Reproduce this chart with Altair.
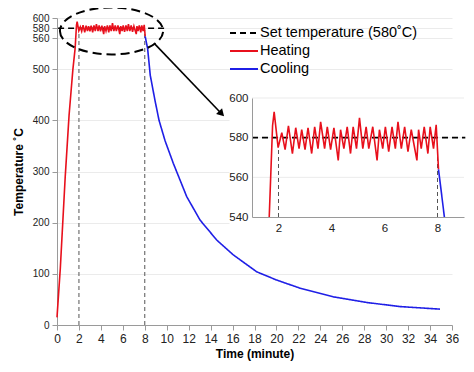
import altair as alt
import pandas as pd

# ---------------- data ----------------
heat_t = [0, 0.3, 0.75, 1.1, 1.45, 1.65, 1.776, 1.836, 1.986, 2.124, 2.249, 2.375, 2.525, 2.650,
          2.776, 2.876, 3.001, 3.114, 3.252, 3.365, 3.490, 3.590, 3.740, 3.841, 3.966, 4.091,
          4.254, 4.342, 4.467, 4.592, 4.718, 4.818, 4.943, 5.056, 5.181, 5.307, 5.407, 5.557,
          5.720, 5.808, 5.933, 6.033, 6.159, 6.284, 6.409, 6.509, 6.635, 6.760, 6.885, 7.010,
          7.223, 7.286, 7.386, 7.499, 7.637, 7.724, 7.850, 7.950, 8.038]
heat_v = [15, 110, 290, 410, 500, 540, 586, 593, 575, 582.5, 574, 586, 572, 585,
          574.5, 584, 574, 585, 572, 585.5, 574.5, 588, 574.5, 585.5, 574, 585,
          568.5, 584, 574.5, 585.5, 572, 585.5, 574.5, 590, 574.5, 585.5, 574.5, 585.5,
          568.5, 584, 574.5, 585.5, 573, 585.5, 574.5, 588, 574.5, 585.5, 573, 584,
          568.5, 584, 574.5, 585.5, 572, 585.5, 574.5, 586.5, 564]
cool_t = [8.038, 8.26, 8.5, 8.93, 9.3, 9.85, 10.6, 11.82, 13.04, 14.56, 16.07, 18.2, 20.0,
          22.15, 25.19, 28.23, 31.27, 34.9]
cool_v = [564, 540, 488, 439, 400, 360, 316, 251, 205, 166, 137, 104, 88,
          72, 55, 44, 36, 31]

SERIES = ["Set temperature (580\u02daC)", "Heating", "Cooling"]
COLORS = ["black", "#e8101c", "#1f1fe6"]
set_temp = 580
set_t_main = [0.1, 10.1]
set_t_inset = [1, 9.05]
marker_t = [2, 8]
marker_lo_main, marker_hi_main = 0, 576
marker_lo_inset, marker_hi_inset = 540, 577
x_ticks = list(range(0, 37, 2))
y_ticks = [0, 100, 200, 300, 400, 500, 560, 580, 600]
inset_x_ticks = [2, 4, 6, 8]
inset_y_ticks = [540, 560, 580, 600]
inset_grid = [560, 580, 600]
ellipse_center = [4.97, 574.6]
arrow_t = [8.84, 15.0]
arrow_v = [551, 413]

# ---------------- tables ----------------
lines_df = pd.concat([
    pd.DataFrame({"series": SERIES[0], "t": set_t_main, "v": [set_temp] * len(set_t_main)}),
    pd.DataFrame({"series": SERIES[1], "t": heat_t, "v": heat_v}),
    pd.DataFrame({"series": SERIES[2], "t": cool_t, "v": cool_v}),
], ignore_index=True)
heat_df = pd.DataFrame({"t": heat_t, "v": heat_v})
cool_df = pd.DataFrame({"t": cool_t, "v": cool_v})
marker_main_df = pd.DataFrame({"t": marker_t, "lo": marker_lo_main, "hi": marker_hi_main})
marker_inset_df = pd.DataFrame({"t": marker_t, "lo": marker_lo_inset, "hi": marker_hi_inset})
set_inset_df = pd.DataFrame({"t": set_t_inset, "v": [set_temp] * len(set_t_inset)})
ell_df = pd.DataFrame({"t": [ellipse_center[0]], "v": [ellipse_center[1]]})
arrow_df = pd.DataFrame({"t": arrow_t, "v": arrow_v})
head_df = arrow_df.tail(1)
grid_inset_df = pd.DataFrame({"v": inset_grid, "t0": 1, "t1": 9})
bg_df = pd.DataFrame({"t0": [0.15], "t1": [9.1], "v0": [533], "v1": [601]})

FONT = "Liberation Sans"

# ---------------- main panel ----------------
xs = alt.Scale(domain=[0, 36], nice=False, zero=False)
ys = alt.Scale(domain=[0, 600], nice=False, zero=False)
x_axis = alt.Axis(values=x_ticks, title="Time (minute)", grid=False, labelFlush=False,
                  tickSize=5, labelPadding=3, titlePadding=4, labelFontSize=12)
y_axis = alt.Axis(values=y_ticks, title="Temperature \u02daC", grid=True, gridColor="#ebebeb",
                  labelOverlap=False, tickSize=5, labelPadding=3, titlePadding=7,
                  labelFontSize=10)

legend = alt.Legend(orient="none", legendX=179, legendY=7, title=None,
                    symbolType="M-2,0H2", symbolSize=196, symbolStrokeWidth=2,
                    labelFontSize=14.5, labelFont=FONT, labelColor="black",
                    labelOffset=8, rowPadding=3, padding=0)

X = alt.X("t:Q", scale=xs, axis=x_axis)
Y = alt.Y("v:Q", scale=ys, axis=y_axis)

main_lines = alt.Chart(lines_df).mark_line(strokeWidth=1.6, clip=False).encode(
    x=X, y=Y,
    color=alt.Color("series:N", scale=alt.Scale(domain=SERIES, range=COLORS), legend=legend),
    strokeDash=alt.StrokeDash("series:N",
                              scale=alt.Scale(domain=SERIES, range=[[6, 4], [1, 0], [1, 0]]),
                              legend=legend),
    detail="series:N",
)
main_markers = alt.Chart(marker_main_df).mark_rule(
    color="#555555", strokeDash=[4, 3], strokeWidth=1).encode(
    x=X, y=alt.Y("lo:Q", scale=ys, axis=y_axis), y2="hi:Q")
ELLIPSE = "M-1,0A1,0.455,0,1,0,1,0A1,0.455,0,1,0,-1,0Z"
ellipse = alt.Chart(ell_df).mark_point(
    shape=ELLIPSE, size=10650, filled=False, color="black", strokeWidth=2,
    strokeDash=[9, 5], opacity=1, clip=False).encode(x=X, y=Y)
arrow = alt.Chart(arrow_df).mark_line(color="black", strokeWidth=1.6, clip=False).encode(x=X, y=Y)
head = alt.Chart(head_df).mark_point(
    shape="triangle-up", size=70, filled=True, color="black", opacity=1, angle=136,
    clip=False).encode(x=X, y=Y)

main = alt.layer(main_markers, main_lines, ellipse, arrow, head)

# ---------------- inset panel ----------------
ixs = alt.Scale(domain=[1, 9], range=[195, 407], nice=False, zero=False)
iys = alt.Scale(domain=[540, 600], range=[199, 80], nice=False, zero=False)
ix_axis = alt.Axis(values=inset_x_ticks, title=None, grid=False, orient="bottom", offset=-108,
                   ticks=False, labelPadding=5, labelFlush=False, zindex=1)
iy_axis = alt.Axis(values=inset_y_ticks, title=None, grid=False, orient="left", offset=-195,
                   ticks=False, labelPadding=4, labelOverlap=False, zindex=1)
IX = alt.X("t:Q", scale=ixs, axis=ix_axis)
IY = alt.Y("v:Q", scale=iys, axis=iy_axis)

bg = alt.Chart(bg_df).mark_rect(color="white", clip=False).encode(
    x=alt.X("t0:Q", scale=ixs, axis=ix_axis), x2="t1:Q",
    y=alt.Y("v0:Q", scale=iys, axis=iy_axis), y2="v1:Q")
igrid = alt.Chart(grid_inset_df).mark_rule(color="#ebebeb", strokeWidth=1).encode(
    x=alt.X("t0:Q", scale=ixs, axis=ix_axis), x2="t1:Q", y=IY)
imarkers = alt.Chart(marker_inset_df).mark_rule(
    color="#555555", strokeDash=[4, 3], strokeWidth=1).encode(
    x=IX, y=alt.Y("lo:Q", scale=iys, axis=iy_axis), y2="hi:Q")
iset = alt.Chart(set_inset_df).mark_line(
    color="black", strokeDash=[6, 4], strokeWidth=1.8, clip=False).encode(x=IX, y=IY)
iheat = alt.Chart(heat_df).transform_filter("datum.v >= 540").mark_line(
    color=COLORS[1], strokeWidth=1.6).encode(x=IX, y=IY)
icool = alt.Chart(cool_df).transform_filter("datum.v >= 540").mark_line(
    color=COLORS[2], strokeWidth=1.6).encode(x=IX, y=IY)

inset = alt.layer(bg, igrid, imarkers, iset, iheat, icool)

chart = alt.layer(main, inset).resolve_scale(
    x="independent", y="independent"
).properties(
    width=395, height=307,
    autosize=alt.AutoSizeParams(type="none"),
    padding={"left": 49, "top": 10, "right": 14, "bottom": 39},
).configure(font=FONT).configure_view(stroke=None).configure_axis(
    labelFontSize=11.5, labelColor="#222222", labelFont=FONT,
    titleFontSize=12, titleFontWeight="bold", titleColor="black", titleFont=FONT,
    domainColor="#9a9a9a", tickColor="#9a9a9a",
)

chart.save("out.html", embed_options={"renderer": "svg", "actions": False})
